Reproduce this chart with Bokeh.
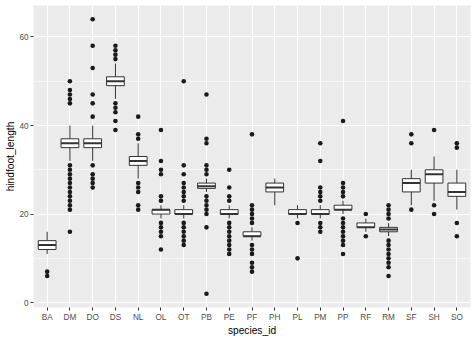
from bokeh.plotting import figure
from bokeh.models import ColumnDataSource, FactorRange, Range1d, FixedTicker
from bokeh.transform import dodge
from bokeh.embed import file_html
from bokeh.resources import INLINE

species = ["BA", "DM", "DO", "DS", "NL", "OL", "OT", "PB", "PE", "PF",
           "PH", "PL", "PM", "PP", "RF", "RM", "SF", "SH", "SO"]
q1 = [12, 35, 35, 49, 31, 20, 20, 25.8, 20, 15, 25, 20, 20, 21, 17, 16, 25, 27, 24]
med = [13, 36, 36, 50, 32, 21, 20, 26.3, 20, 15, 26, 20, 20, 21, 17, 16.5, 27, 29, 25]
q3 = [14, 37, 37, 51, 33, 21, 21, 27, 21, 16, 27, 21, 21, 22, 18, 17, 28, 30, 27]
whisk_lo = [11, 32, 32, 46, 28, 19, 19, 25, 19, 14, 22, 19, 19, 20, 16, 15, 22, 23, 21]
whisk_hi = [16, 40, 40, 54, 36, 22, 22, 28, 22, 17, 28, 22, 22, 23, 19, 18, 30, 33, 30]
outliers = [
    [7, 6],
    [50, 48, 47, 46, 45, 31, 30, 29, 28, 27, 26, 25, 24, 23, 22, 21, 16],
    [64, 58, 53, 47, 45, 42, 31, 29, 28, 27, 26],
    [58, 57, 56, 55, 45, 44, 43, 41, 39],
    [42, 38, 37, 27, 26, 25, 22, 21],
    [39, 32, 30, 29, 24, 23, 18, 17, 16, 15, 12],
    [50, 31, 29, 27, 26, 25, 24, 23, 18, 17, 16, 15, 14, 13],
    [47, 37, 36, 31, 30, 29, 24, 23, 22, 21, 20, 17, 2],
    [30, 26, 24, 23, 18, 17, 16, 15, 14, 13, 12, 11],
    [38, 22, 21, 20, 19, 18, 13, 12, 11, 9, 8, 7],
    [],
    [18, 10],
    [36, 32, 26, 25, 24, 23, 18, 17, 16],
    [41, 27, 26, 25, 24, 19, 18, 17, 16, 15, 14, 13, 11],
    [20, 15],
    [22, 21, 20, 19, 14, 13, 12, 11, 10, 9, 8, 6],
    [38, 36, 21],
    [39, 22, 20],
    [36, 35, 18, 15],
]
y_ticks = [0, 20, 40, 60]
y_minor = [10, 30, 50]

box_src = ColumnDataSource(dict(species=species, q1=q1, med=med, q3=q3,
                                lo=whisk_lo, hi=whisk_hi))
out_sp, out_val = [], []
for s, vals in zip(species, outliers):
    for v in vals:
        out_sp.append(s)
        out_val.append(v)
out_src = ColumnDataSource(dict(species=out_sp, val=out_val))

allv = out_val + whisk_lo + whisk_hi
lo, hi = min(allv), max(allv)
pad = (hi - lo) * 0.05

p = figure(width=474, height=338, output_backend="svg", toolbar_location=None,
           x_range=FactorRange(*species, range_padding=0.1,
                               range_padding_units="absolute"),
           y_range=Range1d(lo - pad, hi + pad),
           min_border_left=33, min_border_right=4, min_border_top=5,
           min_border_bottom=30)

p.background_fill_color = "#EBEBEB"
p.border_fill_color = "white"
p.outline_line_color = None

grey20 = "#333333"
BW = 0.78

p.segment(x0="species", x1="species", y0="q3", y1="hi", source=box_src,
          line_color=grey20, line_width=1)
p.segment(x0="species", x1="species", y0="q1", y1="lo", source=box_src,
          line_color=grey20, line_width=1)
p.vbar(x="species", width=BW, bottom="q1", top="q3", source=box_src,
       fill_color="white", line_color=grey20, line_width=1)
p.segment(x0=dodge("species", -BW / 2, range=p.x_range),
          x1=dodge("species", BW / 2, range=p.x_range),
          y0="med", y1="med", source=box_src, line_color=grey20, line_width=2)
p.scatter(x="species", y="val", source=out_src, size=4.6,
          fill_color="#1a1a1a", line_color=None)

p.yaxis.ticker = FixedTicker(ticks=y_ticks, minor_ticks=y_minor)
p.ygrid.grid_line_color = "white"
p.ygrid.grid_line_width = 1.1
p.ygrid.minor_grid_line_color = "white"
p.ygrid.minor_grid_line_width = 0.55
p.xgrid.grid_line_color = "white"
p.xgrid.grid_line_width = 1.1

for ax in (p.xaxis[0], p.yaxis[0]):
    ax.axis_line_color = None
    ax.major_tick_line_color = grey20
    ax.major_tick_out = 3
    ax.major_tick_in = 0
    ax.minor_tick_line_color = None
    ax.major_label_text_font = "Liberation Sans"
    ax.major_label_text_font_size = "8.2px"
    ax.major_label_text_color = "#4D4D4D"
    ax.axis_label_text_font = "Liberation Sans"
    ax.axis_label_text_font_size = "10.2px"
    ax.axis_label_text_font_style = "normal"
    ax.axis_label_text_color = "black"
    ax.major_label_standoff = 2
    ax.axis_label_standoff = 0
p.yaxis.major_label_standoff = 1

p.xaxis.axis_label = "species_id"
p.yaxis.axis_label = "hindfoot_length"

open("out.html", "w").write(file_html(p, INLINE))
